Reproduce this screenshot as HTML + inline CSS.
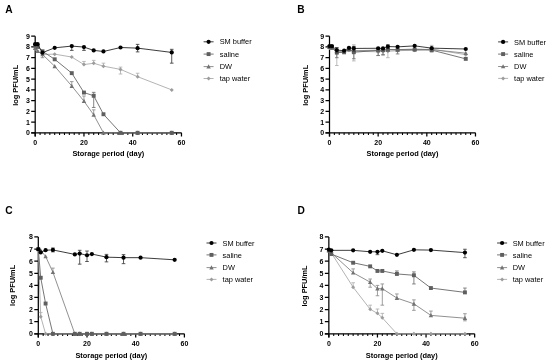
<!DOCTYPE html>
<html><head><meta charset="utf-8"><style>
html,body{margin:0;padding:0;background:#fff;}
body{width:550px;height:363px;overflow:hidden;}
svg{display:block;}
text{font-family:"Liberation Sans",sans-serif;}
.pl{font-size:10.2px;font-weight:bold;fill:#000;}
.tl{font-size:7px;font-weight:bold;fill:#000;}
.at{font-size:7.4px;font-weight:bold;fill:#000;}
.lg{font-size:7.4px;fill:#000;}
</style></head><body>
<svg width="550" height="363" viewBox="0 0 550 363">
<rect width="550" height="363" fill="#fff"/>
<g filter="url(#b)">
<text x="5.2" y="12.6" class="pl">A</text>
<path d="M35.2 36.23V136.5" stroke="#000" stroke-width="1.25" fill="none"/>
<path d="M31.2 132.8H181.48" stroke="#000" stroke-width="1.25" fill="none"/>
<path d="M31.2 132.8H35.2M31.2 122.07H35.2M31.2 111.34H35.2M31.2 100.61H35.2M31.2 89.88H35.2M31.2 79.15H35.2M31.2 68.42H35.2M31.2 57.69H35.2M31.2 46.96H35.2M31.2 36.23H35.2" stroke="#000" stroke-width="1.25" fill="none"/>
<path d="M35.2 132.8V136.5M83.96 132.8V136.5M132.72 132.8V136.5M181.48 132.8V136.5" stroke="#000" stroke-width="1.25" fill="none"/>
<path d="M40.08 132.8V135M44.95 132.8V135M49.83 132.8V135M54.7 132.8V135M59.58 132.8V135M64.46 132.8V135M69.33 132.8V135M74.21 132.8V135M79.08 132.8V135M88.84 132.8V135M93.71 132.8V135M98.59 132.8V135M103.46 132.8V135M108.34 132.8V135M113.22 132.8V135M118.09 132.8V135M122.97 132.8V135M127.84 132.8V135M137.6 132.8V135M142.47 132.8V135M147.35 132.8V135M152.22 132.8V135M157.1 132.8V135M161.98 132.8V135M166.85 132.8V135M171.73 132.8V135M176.6 132.8V135" stroke="#000" stroke-width="1.05" fill="none"/>
<text x="29.8" y="135.3" class="tl" text-anchor="end">0</text>
<text x="29.8" y="124.57" class="tl" text-anchor="end">1</text>
<text x="29.8" y="113.84" class="tl" text-anchor="end">2</text>
<text x="29.8" y="103.11" class="tl" text-anchor="end">3</text>
<text x="29.8" y="92.38" class="tl" text-anchor="end">4</text>
<text x="29.8" y="81.65" class="tl" text-anchor="end">5</text>
<text x="29.8" y="70.92" class="tl" text-anchor="end">6</text>
<text x="29.8" y="60.19" class="tl" text-anchor="end">7</text>
<text x="29.8" y="49.46" class="tl" text-anchor="end">8</text>
<text x="29.8" y="38.73" class="tl" text-anchor="end">9</text>
<text x="35.2" y="144.7" class="tl" text-anchor="middle">0</text>
<text x="83.96" y="144.7" class="tl" text-anchor="middle">20</text>
<text x="132.72" y="144.7" class="tl" text-anchor="middle">40</text>
<text x="181.48" y="144.7" class="tl" text-anchor="middle">60</text>
<text x="108.34" y="156" class="at" text-anchor="middle">Storage period (day)</text>
<text transform="translate(18.4 85.32) rotate(-90)" class="at" text-anchor="middle">log PFU/mL</text>
<path d="M35.2 49.11L37.64 51.25L42.51 54.47L54.7 54.15L71.77 57.05L83.96 64.56L93.71 63.27L103.46 66.17L120.53 69.39L137.6 76.68L171.73 89.88" stroke="#ababab" stroke-width="0.9" fill="none"/>
<path d="M83.96 64.56V61.45M82.16 61.45H85.76M93.71 63.27V60.37M91.91 60.37H95.51M103.46 66.17V63.16M101.66 63.16H105.26M120.53 69.39V67.13M118.73 67.13H122.33M120.53 69.39V74M118.73 74H122.33M137.6 76.68V73.25M135.8 73.25H139.4" stroke="#b0b0b0" stroke-width="0.85" fill="none"/>
<path d="M35.2 47.11L37.2 49.11L35.2 51.11L33.2 49.11Z" fill="#9c9c9c"/>
<path d="M37.64 49.25L39.64 51.25L37.64 53.25L35.64 51.25Z" fill="#9c9c9c"/>
<path d="M42.51 52.47L44.51 54.47L42.51 56.47L40.51 54.47Z" fill="#9c9c9c"/>
<path d="M54.7 52.15L56.7 54.15L54.7 56.15L52.7 54.15Z" fill="#9c9c9c"/>
<path d="M71.77 55.05L73.77 57.05L71.77 59.05L69.77 57.05Z" fill="#9c9c9c"/>
<path d="M83.96 62.56L85.96 64.56L83.96 66.56L81.96 64.56Z" fill="#9c9c9c"/>
<path d="M93.71 61.27L95.71 63.27L93.71 65.27L91.71 63.27Z" fill="#9c9c9c"/>
<path d="M103.46 64.17L105.46 66.17L103.46 68.17L101.46 66.17Z" fill="#9c9c9c"/>
<path d="M120.53 67.39L122.53 69.39L120.53 71.39L118.53 69.39Z" fill="#9c9c9c"/>
<path d="M137.6 74.68L139.6 76.68L137.6 78.68L135.6 76.68Z" fill="#9c9c9c"/>
<path d="M171.73 87.88L173.73 89.88L171.73 91.88L169.73 89.88Z" fill="#9c9c9c"/>
<path d="M35.2 48.03L37.64 51.25L42.51 54.47L54.7 66.27L71.77 86.02L83.96 101.15L93.71 114.88L103.46 132.8L120.53 132.8L137.6 132.8L171.73 132.8" stroke="#858585" stroke-width="0.9" fill="none"/>
<path d="M42.51 54.47V57.69M40.71 57.69H44.31M71.77 86.02V81.62M69.97 81.62H73.57M83.96 101.15V96M82.16 96H85.76M93.71 114.88V109.84M91.91 109.84H95.51" stroke="#8c8c8c" stroke-width="0.85" fill="none"/>
<path d="M35.2 45.72L37.4 49.9L33 49.9Z" fill="#737373"/>
<path d="M37.64 48.94L39.84 53.12L35.44 53.12Z" fill="#737373"/>
<path d="M42.51 52.16L44.71 56.34L40.31 56.34Z" fill="#737373"/>
<path d="M54.7 63.96L56.9 68.14L52.5 68.14Z" fill="#737373"/>
<path d="M71.77 83.71L73.97 87.89L69.57 87.89Z" fill="#737373"/>
<path d="M83.96 98.84L86.16 103.02L81.76 103.02Z" fill="#737373"/>
<path d="M93.71 112.57L95.91 116.75L91.51 116.75Z" fill="#737373"/>
<path d="M103.46 130.49L105.66 134.67L101.26 134.67Z" fill="#737373"/>
<path d="M120.53 130.49L122.73 134.67L118.33 134.67Z" fill="#737373"/>
<path d="M137.6 130.49L139.8 134.67L135.4 134.67Z" fill="#737373"/>
<path d="M171.73 130.49L173.93 134.67L169.53 134.67Z" fill="#737373"/>
<path d="M35.2 44.81L37.64 46.96L42.51 51.25L54.7 59.3L71.77 73.14L83.96 92.56L93.71 95.78L103.46 114.24L120.53 132.8L137.6 132.8L171.73 132.8" stroke="#666666" stroke-width="0.9" fill="none"/>
<path d="M93.71 95.78V92.35M91.91 92.35H95.51M93.71 95.78V107.48M91.91 107.48H95.51" stroke="#707070" stroke-width="0.85" fill="none"/>
<rect x="33.25" y="42.86" width="3.9" height="3.9" fill="#5e5e5e"/>
<rect x="35.69" y="45.01" width="3.9" height="3.9" fill="#5e5e5e"/>
<rect x="40.56" y="49.3" width="3.9" height="3.9" fill="#5e5e5e"/>
<rect x="52.75" y="57.35" width="3.9" height="3.9" fill="#5e5e5e"/>
<rect x="69.82" y="71.19" width="3.9" height="3.9" fill="#5e5e5e"/>
<rect x="82.01" y="90.61" width="3.9" height="3.9" fill="#5e5e5e"/>
<rect x="91.76" y="93.83" width="3.9" height="3.9" fill="#5e5e5e"/>
<rect x="101.51" y="112.29" width="3.9" height="3.9" fill="#5e5e5e"/>
<rect x="118.58" y="130.85" width="3.9" height="3.9" fill="#5e5e5e"/>
<rect x="135.65" y="130.85" width="3.9" height="3.9" fill="#5e5e5e"/>
<rect x="169.78" y="130.85" width="3.9" height="3.9" fill="#5e5e5e"/>
<path d="M35.2 44.17L37.64 44.17L42.51 52.65L54.7 47.82L71.77 46.1L83.96 47.07L93.71 50.39L103.46 51.47L120.53 47.5L137.6 48.14L171.73 52.43" stroke="#262626" stroke-width="0.9" fill="none"/>
<path d="M71.77 46.1V50.39M69.97 50.39H73.57M83.96 47.07V50.39M82.16 50.39H85.76M137.6 48.14V44.38M135.8 44.38H139.4M137.6 48.14V51.9M135.8 51.9H139.4M171.73 52.43V49.32M169.93 49.32H173.53M171.73 52.43V63.16M169.93 63.16H173.53" stroke="#3c3c3c" stroke-width="0.85" fill="none"/>
<circle cx="35.2" cy="44.17" r="2.1" fill="#000000"/>
<circle cx="37.64" cy="44.17" r="2.1" fill="#000000"/>
<circle cx="42.51" cy="52.65" r="2.1" fill="#000000"/>
<circle cx="54.7" cy="47.82" r="2.1" fill="#000000"/>
<circle cx="71.77" cy="46.1" r="2.1" fill="#000000"/>
<circle cx="83.96" cy="47.07" r="2.1" fill="#000000"/>
<circle cx="93.71" cy="50.39" r="2.1" fill="#000000"/>
<circle cx="103.46" cy="51.47" r="2.1" fill="#000000"/>
<circle cx="120.53" cy="47.5" r="2.1" fill="#000000"/>
<circle cx="137.6" cy="48.14" r="2.1" fill="#000000"/>
<circle cx="171.73" cy="52.43" r="2.1" fill="#000000"/>
<path d="M203.6 41.8H213.6" stroke="#262626" stroke-width="0.9"/>
<circle cx="208.6" cy="41.8" r="2.1" fill="#000000"/>
<text x="219.7" y="44.4" class="lg">SM buffer</text>
<path d="M203.6 54.1H213.6" stroke="#666666" stroke-width="0.9"/>
<rect x="206.65" y="52.15" width="3.9" height="3.9" fill="#5e5e5e"/>
<text x="219.7" y="56.7" class="lg">saline</text>
<path d="M203.6 66.6H213.6" stroke="#858585" stroke-width="0.9"/>
<path d="M208.6 64.29L210.8 68.47L206.4 68.47Z" fill="#737373"/>
<text x="219.7" y="69.2" class="lg">DW</text>
<path d="M203.6 78.5H213.6" stroke="#ababab" stroke-width="0.9"/>
<path d="M208.6 76.5L210.6 78.5L208.6 80.5L206.6 78.5Z" fill="#9c9c9c"/>
<text x="219.7" y="81.1" class="lg">tap water</text>
<text x="297.3" y="12.6" class="pl">B</text>
<path d="M329.5 36.23V136.5" stroke="#000" stroke-width="1.25" fill="none"/>
<path d="M325.5 132.8H475.48" stroke="#000" stroke-width="1.25" fill="none"/>
<path d="M325.5 132.8H329.5M325.5 122.07H329.5M325.5 111.34H329.5M325.5 100.61H329.5M325.5 89.88H329.5M325.5 79.15H329.5M325.5 68.42H329.5M325.5 57.69H329.5M325.5 46.96H329.5M325.5 36.23H329.5" stroke="#000" stroke-width="1.25" fill="none"/>
<path d="M329.5 132.8V136.5M378.16 132.8V136.5M426.82 132.8V136.5M475.48 132.8V136.5" stroke="#000" stroke-width="1.25" fill="none"/>
<path d="M334.37 132.8V135M339.23 132.8V135M344.1 132.8V135M348.96 132.8V135M353.83 132.8V135M358.7 132.8V135M363.56 132.8V135M368.43 132.8V135M373.29 132.8V135M383.03 132.8V135M387.89 132.8V135M392.76 132.8V135M397.62 132.8V135M402.49 132.8V135M407.36 132.8V135M412.22 132.8V135M417.09 132.8V135M421.95 132.8V135M431.69 132.8V135M436.55 132.8V135M441.42 132.8V135M446.28 132.8V135M451.15 132.8V135M456.02 132.8V135M460.88 132.8V135M465.75 132.8V135M470.61 132.8V135" stroke="#000" stroke-width="1.05" fill="none"/>
<text x="324.1" y="135.3" class="tl" text-anchor="end">0</text>
<text x="324.1" y="124.57" class="tl" text-anchor="end">1</text>
<text x="324.1" y="113.84" class="tl" text-anchor="end">2</text>
<text x="324.1" y="103.11" class="tl" text-anchor="end">3</text>
<text x="324.1" y="92.38" class="tl" text-anchor="end">4</text>
<text x="324.1" y="81.65" class="tl" text-anchor="end">5</text>
<text x="324.1" y="70.92" class="tl" text-anchor="end">6</text>
<text x="324.1" y="60.19" class="tl" text-anchor="end">7</text>
<text x="324.1" y="49.46" class="tl" text-anchor="end">8</text>
<text x="324.1" y="38.73" class="tl" text-anchor="end">9</text>
<text x="329.5" y="144.7" class="tl" text-anchor="middle">0</text>
<text x="378.16" y="144.7" class="tl" text-anchor="middle">20</text>
<text x="426.82" y="144.7" class="tl" text-anchor="middle">40</text>
<text x="475.48" y="144.7" class="tl" text-anchor="middle">60</text>
<text x="402.49" y="156" class="at" text-anchor="middle">Storage period (day)</text>
<text transform="translate(307.6 85.32) rotate(-90)" class="at" text-anchor="middle">log PFU/mL</text>
<path d="M329.5 48.03L331.93 48.03L336.8 52.33L344.1 51.79L348.96 50.18L353.83 51.25L378.16 51.79L383.03 51.25L387.89 51.25L397.62 50.72L414.65 50.18L431.69 49.11L465.75 54.69" stroke="#ababab" stroke-width="0.9" fill="none"/>
<path d="M336.8 52.33V49.11M335 49.11H338.6M336.8 52.33V65.52M335 65.52H338.6M353.83 51.25V44.81M352.03 44.81H355.63M353.83 51.25V60.91M352.03 60.91H355.63M378.16 51.79V48.03M376.36 48.03H379.96M378.16 51.79V55.54M376.36 55.54H379.96M383.03 51.25V48.03M381.23 48.03H384.83M383.03 51.25V55.54M381.23 55.54H384.83M387.89 51.25V46.96M386.09 46.96H389.69M387.89 51.25V57.69M386.09 57.69H389.69M431.69 49.11V45.35M429.89 45.35H433.49M431.69 49.11V52.33M429.89 52.33H433.49" stroke="#b0b0b0" stroke-width="0.85" fill="none"/>
<path d="M329.5 46.03L331.5 48.03L329.5 50.03L327.5 48.03Z" fill="#9c9c9c"/>
<path d="M331.93 46.03L333.93 48.03L331.93 50.03L329.93 48.03Z" fill="#9c9c9c"/>
<path d="M336.8 50.33L338.8 52.33L336.8 54.33L334.8 52.33Z" fill="#9c9c9c"/>
<path d="M344.1 49.79L346.1 51.79L344.1 53.79L342.1 51.79Z" fill="#9c9c9c"/>
<path d="M348.96 48.18L350.96 50.18L348.96 52.18L346.96 50.18Z" fill="#9c9c9c"/>
<path d="M353.83 49.25L355.83 51.25L353.83 53.25L351.83 51.25Z" fill="#9c9c9c"/>
<path d="M378.16 49.79L380.16 51.79L378.16 53.79L376.16 51.79Z" fill="#9c9c9c"/>
<path d="M383.03 49.25L385.03 51.25L383.03 53.25L381.03 51.25Z" fill="#9c9c9c"/>
<path d="M387.89 49.25L389.89 51.25L387.89 53.25L385.89 51.25Z" fill="#9c9c9c"/>
<path d="M397.62 48.72L399.62 50.72L397.62 52.72L395.62 50.72Z" fill="#9c9c9c"/>
<path d="M414.65 48.18L416.65 50.18L414.65 52.18L412.65 50.18Z" fill="#9c9c9c"/>
<path d="M431.69 47.11L433.69 49.11L431.69 51.11L429.69 49.11Z" fill="#9c9c9c"/>
<path d="M465.75 52.69L467.75 54.69L465.75 56.69L463.75 54.69Z" fill="#9c9c9c"/>
<path d="M329.5 46.96L331.93 48.03L336.8 51.25L344.1 51.25L348.96 49.64L353.83 50.72L378.16 50.18L383.03 50.18L387.89 49.64L397.62 49.64L414.65 49.11L431.69 49.64L465.75 53.18" stroke="#858585" stroke-width="0.9" fill="none"/>
<path d="M329.5 44.65L331.7 48.83L327.3 48.83Z" fill="#737373"/>
<path d="M331.93 45.72L334.13 49.9L329.73 49.9Z" fill="#737373"/>
<path d="M336.8 48.94L339 53.12L334.6 53.12Z" fill="#737373"/>
<path d="M344.1 48.94L346.3 53.12L341.9 53.12Z" fill="#737373"/>
<path d="M348.96 47.33L351.16 51.51L346.76 51.51Z" fill="#737373"/>
<path d="M353.83 48.41L356.03 52.59L351.63 52.59Z" fill="#737373"/>
<path d="M378.16 47.87L380.36 52.05L375.96 52.05Z" fill="#737373"/>
<path d="M383.03 47.87L385.23 52.05L380.83 52.05Z" fill="#737373"/>
<path d="M387.89 47.33L390.09 51.51L385.69 51.51Z" fill="#737373"/>
<path d="M397.62 47.33L399.82 51.51L395.42 51.51Z" fill="#737373"/>
<path d="M414.65 46.8L416.85 50.98L412.45 50.98Z" fill="#737373"/>
<path d="M431.69 47.33L433.89 51.51L429.49 51.51Z" fill="#737373"/>
<path d="M465.75 50.87L467.95 55.05L463.55 55.05Z" fill="#737373"/>
<path d="M329.5 46.96L331.93 46.96L336.8 52.65L344.1 52.33L348.96 49.11L353.83 52.22L378.16 50.39L383.03 50.18L387.89 49.64L397.62 49.75L414.65 49.75L431.69 50.07L465.75 58.87" stroke="#666666" stroke-width="0.9" fill="none"/>
<path d="M336.8 52.65V57.69M335 57.69H338.6M353.83 52.22V58.76M352.03 58.76H355.63M378.16 50.39V55.54M376.36 55.54H379.96M383.03 50.18V54.47M381.23 54.47H384.83M397.62 49.75V53.93M395.82 53.93H399.42" stroke="#707070" stroke-width="0.85" fill="none"/>
<rect x="327.55" y="45.01" width="3.9" height="3.9" fill="#5e5e5e"/>
<rect x="329.98" y="45.01" width="3.9" height="3.9" fill="#5e5e5e"/>
<rect x="334.85" y="50.7" width="3.9" height="3.9" fill="#5e5e5e"/>
<rect x="342.15" y="50.38" width="3.9" height="3.9" fill="#5e5e5e"/>
<rect x="347.01" y="47.16" width="3.9" height="3.9" fill="#5e5e5e"/>
<rect x="351.88" y="50.27" width="3.9" height="3.9" fill="#5e5e5e"/>
<rect x="376.21" y="48.44" width="3.9" height="3.9" fill="#5e5e5e"/>
<rect x="381.08" y="48.23" width="3.9" height="3.9" fill="#5e5e5e"/>
<rect x="385.94" y="47.69" width="3.9" height="3.9" fill="#5e5e5e"/>
<rect x="395.67" y="47.8" width="3.9" height="3.9" fill="#5e5e5e"/>
<rect x="412.7" y="47.8" width="3.9" height="3.9" fill="#5e5e5e"/>
<rect x="429.74" y="48.12" width="3.9" height="3.9" fill="#5e5e5e"/>
<rect x="463.8" y="56.92" width="3.9" height="3.9" fill="#5e5e5e"/>
<path d="M329.5 46.1L331.93 46.1L336.8 50.07L344.1 50.72L348.96 47.82L353.83 48.46L378.16 48.25L383.03 48.46L387.89 46.53L397.62 46.85L414.65 45.89L431.69 48.14L465.75 49" stroke="#262626" stroke-width="0.9" fill="none"/>
<path d="M336.8 50.07V47.5M335 47.5H338.6M336.8 50.07V52.86M335 52.86H338.6M353.83 48.46V46.42M352.03 46.42H355.63M353.83 48.46V51.25M352.03 51.25H355.63M387.89 46.53V44.81M386.09 44.81H389.69M387.89 46.53V48.57M386.09 48.57H389.69" stroke="#3c3c3c" stroke-width="0.85" fill="none"/>
<circle cx="329.5" cy="46.1" r="2.1" fill="#000000"/>
<circle cx="331.93" cy="46.1" r="2.1" fill="#000000"/>
<circle cx="336.8" cy="50.07" r="2.1" fill="#000000"/>
<circle cx="344.1" cy="50.72" r="2.1" fill="#000000"/>
<circle cx="348.96" cy="47.82" r="2.1" fill="#000000"/>
<circle cx="353.83" cy="48.46" r="2.1" fill="#000000"/>
<circle cx="378.16" cy="48.25" r="2.1" fill="#000000"/>
<circle cx="383.03" cy="48.46" r="2.1" fill="#000000"/>
<circle cx="387.89" cy="46.53" r="2.1" fill="#000000"/>
<circle cx="397.62" cy="46.85" r="2.1" fill="#000000"/>
<circle cx="414.65" cy="45.89" r="2.1" fill="#000000"/>
<circle cx="431.69" cy="48.14" r="2.1" fill="#000000"/>
<circle cx="465.75" cy="49" r="2.1" fill="#000000"/>
<path d="M498.1 41.9H508.1" stroke="#262626" stroke-width="0.9"/>
<circle cx="503.1" cy="41.9" r="2.1" fill="#000000"/>
<text x="514.1" y="44.5" class="lg">SM buffer</text>
<path d="M498.1 54.1H508.1" stroke="#666666" stroke-width="0.9"/>
<rect x="501.15" y="52.15" width="3.9" height="3.9" fill="#5e5e5e"/>
<text x="514.1" y="56.7" class="lg">saline</text>
<path d="M498.1 66.5H508.1" stroke="#858585" stroke-width="0.9"/>
<path d="M503.1 64.19L505.3 68.37L500.9 68.37Z" fill="#737373"/>
<text x="514.1" y="69.1" class="lg">DW</text>
<path d="M498.1 78.4H508.1" stroke="#ababab" stroke-width="0.9"/>
<path d="M503.1 76.4L505.1 78.4L503.1 80.4L501.1 78.4Z" fill="#9c9c9c"/>
<text x="514.1" y="81" class="lg">tap water</text>
<text x="5.2" y="213.9" class="pl">C</text>
<path d="M38.3 236.92V337.5" stroke="#000" stroke-width="1.25" fill="none"/>
<path d="M34.3 333.8H184.4" stroke="#000" stroke-width="1.25" fill="none"/>
<path d="M34.3 333.8H38.3M34.3 321.69H38.3M34.3 309.58H38.3M34.3 297.47H38.3M34.3 285.36H38.3M34.3 273.25H38.3M34.3 261.14H38.3M34.3 249.03H38.3M34.3 236.92H38.3" stroke="#000" stroke-width="1.25" fill="none"/>
<path d="M38.3 333.8V337.5M87 333.8V337.5M135.7 333.8V337.5M184.4 333.8V337.5" stroke="#000" stroke-width="1.25" fill="none"/>
<path d="M43.17 333.8V336M48.04 333.8V336M52.91 333.8V336M57.78 333.8V336M62.65 333.8V336M67.52 333.8V336M72.39 333.8V336M77.26 333.8V336M82.13 333.8V336M91.87 333.8V336M96.74 333.8V336M101.61 333.8V336M106.48 333.8V336M111.35 333.8V336M116.22 333.8V336M121.09 333.8V336M125.96 333.8V336M130.83 333.8V336M140.57 333.8V336M145.44 333.8V336M150.31 333.8V336M155.18 333.8V336M160.05 333.8V336M164.92 333.8V336M169.79 333.8V336M174.66 333.8V336M179.53 333.8V336" stroke="#000" stroke-width="1.05" fill="none"/>
<text x="32.9" y="336.3" class="tl" text-anchor="end">0</text>
<text x="32.9" y="324.19" class="tl" text-anchor="end">1</text>
<text x="32.9" y="312.08" class="tl" text-anchor="end">2</text>
<text x="32.9" y="299.97" class="tl" text-anchor="end">3</text>
<text x="32.9" y="287.86" class="tl" text-anchor="end">4</text>
<text x="32.9" y="275.75" class="tl" text-anchor="end">5</text>
<text x="32.9" y="263.64" class="tl" text-anchor="end">6</text>
<text x="32.9" y="251.53" class="tl" text-anchor="end">7</text>
<text x="32.9" y="239.42" class="tl" text-anchor="end">8</text>
<text x="38.3" y="345.9" class="tl" text-anchor="middle">0</text>
<text x="87" y="345.9" class="tl" text-anchor="middle">20</text>
<text x="135.7" y="345.9" class="tl" text-anchor="middle">40</text>
<text x="184.4" y="345.9" class="tl" text-anchor="middle">60</text>
<text x="111.35" y="357.6" class="at" text-anchor="middle">Storage period (day)</text>
<text transform="translate(15.3 285.36) rotate(-90)" class="at" text-anchor="middle">log PFU/mL</text>
<path d="M38.3 249.22L40.73 316.64L45.6 333.8L52.91 333.8L74.82 333.8L79.69 333.8L87 333.8L91.87 333.8L106.48 333.8L123.53 333.8L140.57 333.8L174.66 333.8" stroke="#ababab" stroke-width="0.9" fill="none"/>
<path d="M40.73 316.64V312.43M38.94 312.43H42.53" stroke="#b0b0b0" stroke-width="0.85" fill="none"/>
<path d="M38.3 247.22L40.3 249.22L38.3 251.22L36.3 249.22Z" fill="#9c9c9c"/>
<path d="M40.73 314.64L42.73 316.64L40.73 318.64L38.73 316.64Z" fill="#9c9c9c"/>
<path d="M45.6 331.8L47.6 333.8L45.6 335.8L43.6 333.8Z" fill="#9c9c9c"/>
<path d="M52.91 331.8L54.91 333.8L52.91 335.8L50.91 333.8Z" fill="#9c9c9c"/>
<path d="M74.82 331.8L76.82 333.8L74.82 335.8L72.82 333.8Z" fill="#9c9c9c"/>
<path d="M79.69 331.8L81.69 333.8L79.69 335.8L77.69 333.8Z" fill="#9c9c9c"/>
<path d="M87 331.8L89 333.8L87 335.8L85 333.8Z" fill="#9c9c9c"/>
<path d="M91.87 331.8L93.87 333.8L91.87 335.8L89.87 333.8Z" fill="#9c9c9c"/>
<path d="M106.48 331.8L108.48 333.8L106.48 335.8L104.48 333.8Z" fill="#9c9c9c"/>
<path d="M123.53 331.8L125.53 333.8L123.53 335.8L121.53 333.8Z" fill="#9c9c9c"/>
<path d="M140.57 331.8L142.57 333.8L140.57 335.8L138.57 333.8Z" fill="#9c9c9c"/>
<path d="M174.66 331.8L176.66 333.8L174.66 335.8L172.66 333.8Z" fill="#9c9c9c"/>
<path d="M38.3 249.22L40.73 250.42L45.6 256.44L52.91 272.22L74.82 333.8L79.69 333.8L87 333.8L91.87 333.8L106.48 333.8L123.53 333.8L140.57 333.8L174.66 333.8" stroke="#858585" stroke-width="0.9" fill="none"/>
<path d="M52.91 272.22V268.12M51.11 268.12H54.71" stroke="#8c8c8c" stroke-width="0.85" fill="none"/>
<path d="M38.3 246.91L40.5 251.09L36.1 251.09Z" fill="#737373"/>
<path d="M40.73 248.11L42.94 252.29L38.53 252.29Z" fill="#737373"/>
<path d="M45.6 254.13L47.8 258.31L43.4 258.31Z" fill="#737373"/>
<path d="M52.91 269.91L55.11 274.09L50.71 274.09Z" fill="#737373"/>
<path d="M74.82 331.49L77.02 335.67L72.62 335.67Z" fill="#737373"/>
<path d="M79.69 331.49L81.89 335.67L77.49 335.67Z" fill="#737373"/>
<path d="M87 331.49L89.2 335.67L84.8 335.67Z" fill="#737373"/>
<path d="M91.87 331.49L94.07 335.67L89.67 335.67Z" fill="#737373"/>
<path d="M106.48 331.49L108.68 335.67L104.28 335.67Z" fill="#737373"/>
<path d="M123.53 331.49L125.73 335.67L121.33 335.67Z" fill="#737373"/>
<path d="M140.57 331.49L142.77 335.67L138.37 335.67Z" fill="#737373"/>
<path d="M174.66 331.49L176.86 335.67L172.46 335.67Z" fill="#737373"/>
<path d="M38.3 249.22L40.73 277.75L45.6 303.52L52.91 333.8L74.82 333.8L79.69 333.8L87 333.8L91.87 333.8L106.48 333.8L123.53 333.8L140.57 333.8L174.66 333.8" stroke="#666666" stroke-width="0.9" fill="none"/>
<rect x="36.35" y="247.27" width="3.9" height="3.9" fill="#5e5e5e"/>
<rect x="38.78" y="275.8" width="3.9" height="3.9" fill="#5e5e5e"/>
<rect x="43.65" y="301.57" width="3.9" height="3.9" fill="#5e5e5e"/>
<rect x="50.96" y="331.85" width="3.9" height="3.9" fill="#5e5e5e"/>
<rect x="72.87" y="331.85" width="3.9" height="3.9" fill="#5e5e5e"/>
<rect x="77.74" y="331.85" width="3.9" height="3.9" fill="#5e5e5e"/>
<rect x="85.05" y="331.85" width="3.9" height="3.9" fill="#5e5e5e"/>
<rect x="89.92" y="331.85" width="3.9" height="3.9" fill="#5e5e5e"/>
<rect x="104.53" y="331.85" width="3.9" height="3.9" fill="#5e5e5e"/>
<rect x="121.58" y="331.85" width="3.9" height="3.9" fill="#5e5e5e"/>
<rect x="138.62" y="331.85" width="3.9" height="3.9" fill="#5e5e5e"/>
<rect x="172.71" y="331.85" width="3.9" height="3.9" fill="#5e5e5e"/>
<path d="M38.3 249.22L40.73 252.47L45.6 250.18L52.91 249.94L74.82 254.4L79.69 253.55L87 255.24L91.87 254.04L106.48 257.17L123.53 257.65L140.57 257.65L174.66 259.82" stroke="#262626" stroke-width="0.9" fill="none"/>
<path d="M52.91 249.94V248.02M51.11 248.02H54.71M52.91 249.94V251.87M51.11 251.87H54.71M79.69 253.55V250.3M77.89 250.3H81.49M79.69 253.55V264.15M77.89 264.15H81.49M87 255.24V251.03M85.2 251.03H88.8M87 255.24V261.5M85.2 261.5H88.8M106.48 257.17V254.4M104.68 254.4H108.28M106.48 257.17V261.86M104.68 261.86H108.28M123.53 257.65V254.64M121.73 254.64H125.33M123.53 257.65V263.67M121.73 263.67H125.33" stroke="#3c3c3c" stroke-width="0.85" fill="none"/>
<circle cx="38.3" cy="249.22" r="2.1" fill="#000000"/>
<circle cx="40.73" cy="252.47" r="2.1" fill="#000000"/>
<circle cx="45.6" cy="250.18" r="2.1" fill="#000000"/>
<circle cx="52.91" cy="249.94" r="2.1" fill="#000000"/>
<circle cx="74.82" cy="254.4" r="2.1" fill="#000000"/>
<circle cx="79.69" cy="253.55" r="2.1" fill="#000000"/>
<circle cx="87" cy="255.24" r="2.1" fill="#000000"/>
<circle cx="91.87" cy="254.04" r="2.1" fill="#000000"/>
<circle cx="106.48" cy="257.17" r="2.1" fill="#000000"/>
<circle cx="123.53" cy="257.65" r="2.1" fill="#000000"/>
<circle cx="140.57" cy="257.65" r="2.1" fill="#000000"/>
<circle cx="174.66" cy="259.82" r="2.1" fill="#000000"/>
<path d="M206.5 243H216.5" stroke="#262626" stroke-width="0.9"/>
<circle cx="211.5" cy="243" r="2.1" fill="#000000"/>
<text x="222.6" y="245.6" class="lg">SM buffer</text>
<path d="M206.5 254.9H216.5" stroke="#666666" stroke-width="0.9"/>
<rect x="209.55" y="252.95" width="3.9" height="3.9" fill="#5e5e5e"/>
<text x="222.6" y="257.5" class="lg">saline</text>
<path d="M206.5 267.6H216.5" stroke="#858585" stroke-width="0.9"/>
<path d="M211.5 265.29L213.7 269.47L209.3 269.47Z" fill="#737373"/>
<text x="222.6" y="270.2" class="lg">DW</text>
<path d="M206.5 279.4H216.5" stroke="#ababab" stroke-width="0.9"/>
<path d="M211.5 277.4L213.5 279.4L211.5 281.4L209.5 279.4Z" fill="#9c9c9c"/>
<text x="222.6" y="282" class="lg">tap water</text>
<text x="297.5" y="213.9" class="pl">D</text>
<path d="M328.85 236.92V337.5" stroke="#000" stroke-width="1.25" fill="none"/>
<path d="M324.85 333.8H474.65" stroke="#000" stroke-width="1.25" fill="none"/>
<path d="M324.85 333.8H328.85M324.85 321.69H328.85M324.85 309.58H328.85M324.85 297.47H328.85M324.85 285.36H328.85M324.85 273.25H328.85M324.85 261.14H328.85M324.85 249.03H328.85M324.85 236.92H328.85" stroke="#000" stroke-width="1.25" fill="none"/>
<path d="M328.85 333.8V337.5M377.45 333.8V337.5M426.05 333.8V337.5M474.65 333.8V337.5" stroke="#000" stroke-width="1.25" fill="none"/>
<path d="M333.71 333.8V336M338.57 333.8V336M343.43 333.8V336M348.29 333.8V336M353.15 333.8V336M358.01 333.8V336M362.87 333.8V336M367.73 333.8V336M372.59 333.8V336M382.31 333.8V336M387.17 333.8V336M392.03 333.8V336M396.89 333.8V336M401.75 333.8V336M406.61 333.8V336M411.47 333.8V336M416.33 333.8V336M421.19 333.8V336M430.91 333.8V336M435.77 333.8V336M440.63 333.8V336M445.49 333.8V336M450.35 333.8V336M455.21 333.8V336M460.07 333.8V336M464.93 333.8V336M469.79 333.8V336" stroke="#000" stroke-width="1.05" fill="none"/>
<text x="323.45" y="336.3" class="tl" text-anchor="end">0</text>
<text x="323.45" y="324.19" class="tl" text-anchor="end">1</text>
<text x="323.45" y="312.08" class="tl" text-anchor="end">2</text>
<text x="323.45" y="299.97" class="tl" text-anchor="end">3</text>
<text x="323.45" y="287.86" class="tl" text-anchor="end">4</text>
<text x="323.45" y="275.75" class="tl" text-anchor="end">5</text>
<text x="323.45" y="263.64" class="tl" text-anchor="end">6</text>
<text x="323.45" y="251.53" class="tl" text-anchor="end">7</text>
<text x="323.45" y="239.42" class="tl" text-anchor="end">8</text>
<text x="328.85" y="345.9" class="tl" text-anchor="middle">0</text>
<text x="377.45" y="345.9" class="tl" text-anchor="middle">20</text>
<text x="426.05" y="345.9" class="tl" text-anchor="middle">40</text>
<text x="474.65" y="345.9" class="tl" text-anchor="middle">60</text>
<text x="401.75" y="357.6" class="at" text-anchor="middle">Storage period (day)</text>
<text transform="translate(306.55 285.96) rotate(-90)" class="at" text-anchor="middle">log PFU/mL</text>
<path d="M328.85 250.46L331.28 252.87L353.15 287.21L370.16 309.26L377.45 313.36L382.31 317.81L396.89 333.8L413.9 333.8L430.91 333.8L464.93 333.8" stroke="#ababab" stroke-width="0.9" fill="none"/>
<path d="M353.15 287.21V282.75M351.35 282.75H354.95M370.16 309.26V305.16M368.36 305.16H371.96M377.45 313.36V309.02M375.65 309.02H379.25M382.31 317.81V313.36M380.51 313.36H384.11" stroke="#b0b0b0" stroke-width="0.85" fill="none"/>
<path d="M328.85 248.46L330.85 250.46L328.85 252.46L326.85 250.46Z" fill="#9c9c9c"/>
<path d="M331.28 250.87L333.28 252.87L331.28 254.87L329.28 252.87Z" fill="#9c9c9c"/>
<path d="M353.15 285.21L355.15 287.21L353.15 289.21L351.15 287.21Z" fill="#9c9c9c"/>
<path d="M370.16 307.26L372.16 309.26L370.16 311.26L368.16 309.26Z" fill="#9c9c9c"/>
<path d="M377.45 311.36L379.45 313.36L377.45 315.36L375.45 313.36Z" fill="#9c9c9c"/>
<path d="M382.31 315.81L384.31 317.81L382.31 319.81L380.31 317.81Z" fill="#9c9c9c"/>
<path d="M396.89 331.8L398.89 333.8L396.89 335.8L394.89 333.8Z" fill="#9c9c9c"/>
<path d="M413.9 331.8L415.9 333.8L413.9 335.8L411.9 333.8Z" fill="#9c9c9c"/>
<path d="M430.91 331.8L432.91 333.8L430.91 335.8L428.91 333.8Z" fill="#9c9c9c"/>
<path d="M464.93 331.8L466.93 333.8L464.93 335.8L462.93 333.8Z" fill="#9c9c9c"/>
<path d="M328.85 250.46L331.28 252.87L353.15 272.75L370.16 282.15L377.45 288.65L382.31 288.65L396.89 298.05L413.9 303.84L430.91 315.4L464.93 318.18" stroke="#858585" stroke-width="0.9" fill="none"/>
<path d="M353.15 272.75V268.89M351.35 268.89H354.95M370.16 282.15V279.01M368.36 279.01H371.96M370.16 282.15V287.21M368.36 287.21H371.96M377.45 288.65V285.4M375.65 285.4H379.25M377.45 288.65V295.76M375.65 295.76H379.25M382.31 288.65V283.95M380.51 283.95H384.11M382.31 288.65V305.16M380.51 305.16H384.11M396.89 298.05V293.96M395.09 293.96H398.69M413.9 303.84V299.86M412.1 299.86H415.7M413.9 303.84V310.34M412.1 310.34H415.7M430.91 315.4V311.07M429.11 311.07H432.71M464.93 318.18V313.72M463.13 313.72H466.73M464.93 318.18V320.83M463.13 320.83H466.73" stroke="#8c8c8c" stroke-width="0.85" fill="none"/>
<path d="M328.85 248.15L331.05 252.33L326.65 252.33Z" fill="#737373"/>
<path d="M331.28 250.56L333.48 254.74L329.08 254.74Z" fill="#737373"/>
<path d="M353.15 270.44L355.35 274.62L350.95 274.62Z" fill="#737373"/>
<path d="M370.16 279.84L372.36 284.02L367.96 284.02Z" fill="#737373"/>
<path d="M377.45 286.34L379.65 290.52L375.25 290.52Z" fill="#737373"/>
<path d="M382.31 286.34L384.51 290.52L380.11 290.52Z" fill="#737373"/>
<path d="M396.89 295.74L399.09 299.92L394.69 299.92Z" fill="#737373"/>
<path d="M413.9 301.53L416.1 305.71L411.7 305.71Z" fill="#737373"/>
<path d="M430.91 313.09L433.11 317.27L428.71 317.27Z" fill="#737373"/>
<path d="M464.93 315.87L467.13 320.05L462.73 320.05Z" fill="#737373"/>
<path d="M328.85 250.46L331.28 254.07L353.15 262.75L370.16 266.36L377.45 270.94L382.31 270.94L396.89 273.95L413.9 275.28L430.91 288.05L464.93 292.39" stroke="#666666" stroke-width="0.9" fill="none"/>
<path d="M396.89 273.95V270.94M395.09 270.94H398.69M413.9 275.28V271.9M412.1 271.9H415.7M413.9 275.28V283.95M412.1 283.95H415.7M464.93 292.39V288.05M463.13 288.05H466.73" stroke="#707070" stroke-width="0.85" fill="none"/>
<rect x="326.9" y="248.51" width="3.9" height="3.9" fill="#5e5e5e"/>
<rect x="329.33" y="252.12" width="3.9" height="3.9" fill="#5e5e5e"/>
<rect x="351.2" y="260.8" width="3.9" height="3.9" fill="#5e5e5e"/>
<rect x="368.21" y="264.41" width="3.9" height="3.9" fill="#5e5e5e"/>
<rect x="375.5" y="268.99" width="3.9" height="3.9" fill="#5e5e5e"/>
<rect x="380.36" y="268.99" width="3.9" height="3.9" fill="#5e5e5e"/>
<rect x="394.94" y="272" width="3.9" height="3.9" fill="#5e5e5e"/>
<rect x="411.95" y="273.33" width="3.9" height="3.9" fill="#5e5e5e"/>
<rect x="428.96" y="286.1" width="3.9" height="3.9" fill="#5e5e5e"/>
<rect x="462.98" y="290.44" width="3.9" height="3.9" fill="#5e5e5e"/>
<path d="M328.85 249.61L331.28 250.33L353.15 250.33L370.16 251.78L377.45 251.78L382.31 250.82L396.89 254.79L413.9 249.85L430.91 250.09L464.93 252.62" stroke="#262626" stroke-width="0.9" fill="none"/>
<path d="M377.45 251.78V254.67M375.65 254.67H379.25M464.93 252.62V249.25M463.13 249.25H466.73M464.93 252.62V257.69M463.13 257.69H466.73" stroke="#3c3c3c" stroke-width="0.85" fill="none"/>
<circle cx="328.85" cy="249.61" r="2.1" fill="#000000"/>
<circle cx="331.28" cy="250.33" r="2.1" fill="#000000"/>
<circle cx="353.15" cy="250.33" r="2.1" fill="#000000"/>
<circle cx="370.16" cy="251.78" r="2.1" fill="#000000"/>
<circle cx="377.45" cy="251.78" r="2.1" fill="#000000"/>
<circle cx="382.31" cy="250.82" r="2.1" fill="#000000"/>
<circle cx="396.89" cy="254.79" r="2.1" fill="#000000"/>
<circle cx="413.9" cy="249.85" r="2.1" fill="#000000"/>
<circle cx="430.91" cy="250.09" r="2.1" fill="#000000"/>
<circle cx="464.93" cy="252.62" r="2.1" fill="#000000"/>
<path d="M497.1 243H507.1" stroke="#262626" stroke-width="0.9"/>
<circle cx="502.1" cy="243" r="2.1" fill="#000000"/>
<text x="512.7" y="245.6" class="lg">SM buffer</text>
<path d="M497.1 254.9H507.1" stroke="#666666" stroke-width="0.9"/>
<rect x="500.15" y="252.95" width="3.9" height="3.9" fill="#5e5e5e"/>
<text x="512.7" y="257.5" class="lg">saline</text>
<path d="M497.1 267.6H507.1" stroke="#858585" stroke-width="0.9"/>
<path d="M502.1 265.29L504.3 269.47L499.9 269.47Z" fill="#737373"/>
<text x="512.7" y="270.2" class="lg">DW</text>
<path d="M497.1 279.4H507.1" stroke="#ababab" stroke-width="0.9"/>
<path d="M502.1 277.4L504.1 279.4L502.1 281.4L500.1 279.4Z" fill="#9c9c9c"/>
<text x="512.7" y="282" class="lg">tap water</text>
</g>
<defs><filter id="b" filterUnits="userSpaceOnUse" x="0" y="0" width="550" height="363"><feGaussianBlur stdDeviation="0.45"/></filter></defs>
</svg>
</body></html>
